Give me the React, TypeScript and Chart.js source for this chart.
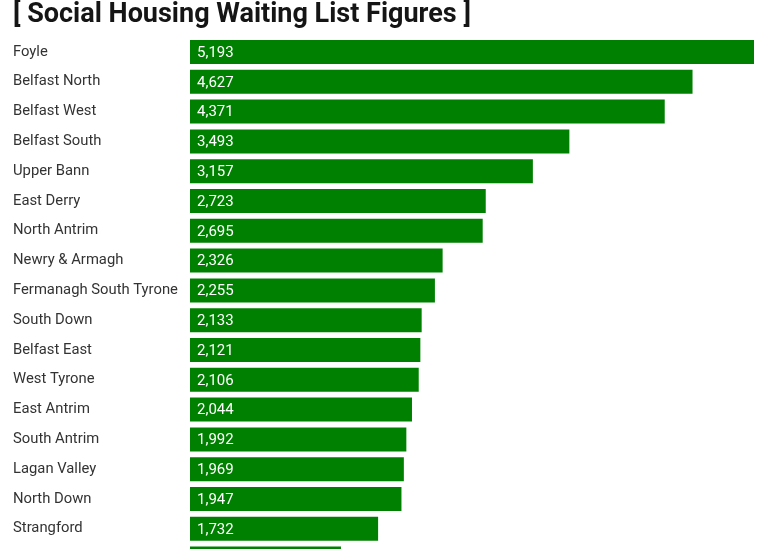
import React, { useEffect, useRef } from "react";
import { Chart, registerables } from "chart.js";

Chart.register(...registerables);

const TITLE = "[ Social Housing Waiting List Figures ]";

const constituencies = [
  "Foyle",
  "Belfast North",
  "Belfast West",
  "Belfast South",
  "Upper Bann",
  "East Derry",
  "North Antrim",
  "Newry & Armagh",
  "Fermanagh South Tyrone",
  "South Down",
  "Belfast East",
  "West Tyrone",
  "East Antrim",
  "South Antrim",
  "Lagan Valley",
  "North Down",
  "Strangford",
  "Mid Ulster",
];

const waitingList = [
  5193, 4627, 4371, 3493, 3157, 2723, 2695, 2326, 2255, 2133, 2121, 2106,
  2044, 1992, 1969, 1947, 1732, 1390,
];

const valueLabels = {
  id: "valueLabels",
  afterDatasetsDraw(chart: any) {
    const ctx = chart.ctx;
    const meta = chart.getDatasetMeta(0);
    ctx.save();
    ctx.font = "15px Roboto";
    ctx.fillStyle = "#ffffff";
    ctx.textAlign = "left";
    ctx.textBaseline = "middle";
    meta.data.forEach((bar: any, i: number) => {
      const v = chart.data.datasets[0].data[i] as number;
      ctx.fillText(v.toLocaleString("en-US"), bar.base + 7, bar.y + 1);
    });
    ctx.restore();
  },
};

export default function App() {
  const ref = useRef<HTMLCanvasElement>(null);

  useEffect(() => {
    if (!ref.current) return;
    const chart = new Chart(ref.current, {
      type: "bar",
      data: {
        labels: constituencies,
        datasets: [
          {
            data: waitingList,
            backgroundColor: "#008000",
            borderWidth: 0,
            barPercentage: 0.805,
            categoryPercentage: 1,
          },
        ],
      },
      options: {
        indexAxis: "y",
        animation: false,
        responsive: true,
        maintainAspectRatio: false,
        layout: { padding: { left: 13, right: 14, top: 0, bottom: 11.5 } },
        plugins: {
          legend: { display: false },
          tooltip: { enabled: false },
          title: {
            display: true,
            text: TITLE,
            align: "start",
            color: "#151515",
            font: { family: "Roboto", size: 27, weight: "bold", lineHeight: 1.1 },
            padding: { top: 0, bottom: 7.4 },
          },
        },
        scales: {
          x: {
            display: false,
            min: 0,
            max: Math.max(...waitingList),
          },
          y: {
            grid: { display: false },
            border: { display: false },
            ticks: {
              crossAlign: "far",
              color: "#333333",
              font: { family: "Roboto", size: 14.8, lineHeight: 1 },
              padding: 0,
            },
            afterFit(scale: any) {
              scale.width = 177;
            },
          },
        },
      },
      plugins: [valueLabels],
    });
    return () => chart.destroy();
  }, []);

  return (
    <div
      style={{
        position: "fixed",
        left: 0,
        top: 0,
        width: 768,
        height: 549,
        overflow: "hidden",
        background: "#fff",
      }}
    >
      <div style={{ width: 768, height: 585, position: "relative" }}>
        <canvas ref={ref} />
      </div>
    </div>
  );
}
